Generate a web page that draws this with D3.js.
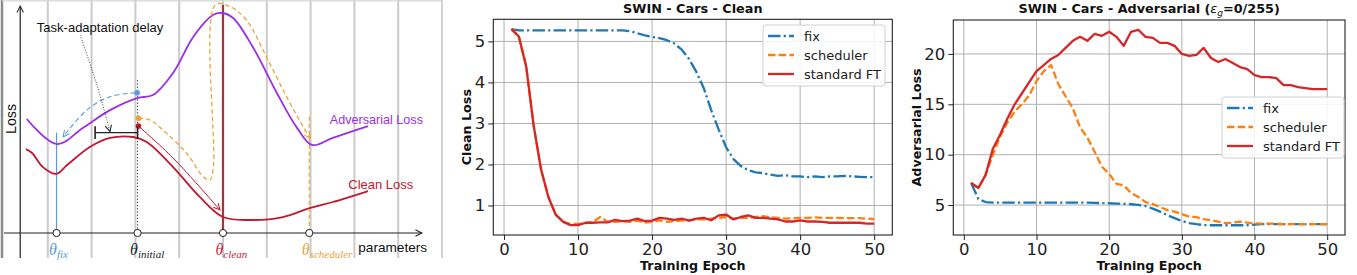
<!DOCTYPE html>
<html>
<head>
<meta charset="utf-8">
<script src="https://cdn.jsdelivr.net/npm/d3@7"></script>
<style>
  body { margin: 0; background: #fff; }
  svg { display: block; }
</style>
</head>
<body>
<script>
// ---------- data: line charts ----------
const epochs = d3.range(1, 51);
const xTicks = [0, 10, 20, 30, 40, 50];

const cleanFix = [5.30, 5.27, 5.27, 5.27, 5.27, 5.27, 5.27, 5.27, 5.27, 5.27,
  5.27, 5.27, 5.27, 5.27, 5.27, 5.27, 5.25, 5.20, 5.15, 5.11,
  5.08, 5.03, 4.95, 4.80, 4.57, 4.25, 3.85, 3.32, 2.85, 2.42,
  2.13, 1.96, 1.86, 1.81, 1.79, 1.75, 1.72, 1.74, 1.71, 1.71,
  1.69, 1.71, 1.69, 1.71, 1.71, 1.72, 1.71, 1.70, 1.69, 1.69];
const cleanScheduler = [5.30, 5.12, 4.40, 2.95, 1.88, 1.20, 0.78, 0.60, 0.55, 0.55,
  0.57, 0.60, 0.72, 0.60, 0.60, 0.62, 0.60, 0.63, 0.58, 0.60,
  0.64, 0.60, 0.62, 0.63, 0.64, 0.66, 0.66, 0.68, 0.70, 0.72,
  0.68, 0.70, 0.70, 0.72, 0.74, 0.71, 0.70, 0.68, 0.69, 0.70,
  0.70, 0.71, 0.70, 0.70, 0.70, 0.69, 0.69, 0.69, 0.68, 0.67];
const cleanStandard = [5.30, 5.12, 4.38, 2.95, 1.88, 1.20, 0.77, 0.60, 0.52, 0.52,
  0.58, 0.58, 0.59, 0.59, 0.65, 0.62, 0.63, 0.68, 0.62, 0.63,
  0.70, 0.68, 0.65, 0.68, 0.63, 0.68, 0.70, 0.64, 0.76, 0.78,
  0.66, 0.72, 0.76, 0.70, 0.70, 0.68, 0.66, 0.61, 0.61, 0.64,
  0.61, 0.61, 0.60, 0.58, 0.58, 0.58, 0.58, 0.58, 0.56, 0.56];

const advFix = [7.2, 5.6, 5.3, 5.25, 5.25, 5.25, 5.25, 5.25, 5.25, 5.25,
  5.25, 5.25, 5.25, 5.25, 5.25, 5.25, 5.25, 5.22, 5.2, 5.18,
  5.15, 5.12, 5.08, 5.02, 4.9, 4.65, 4.35, 4.0, 3.7, 3.42,
  3.22, 3.1, 3.02, 3.0, 3.0, 3.0, 3.0, 3.0, 3.0, 3.05,
  3.1, 3.1, 3.1, 3.1, 3.1, 3.1, 3.1, 3.1, 3.1, 3.1];
const advScheduler = [7.2, 6.7, 8.0, 10.0, 11.8, 13.2, 14.3, 15.0, 15.9, 17.3,
  18.3, 18.9, 17.0, 15.8, 14.6, 12.7, 11.7, 10.3, 8.8, 8.1,
  7.1, 6.95, 6.2, 5.8, 5.3, 5.1, 4.8, 4.5, 4.35, 4.1,
  3.85, 3.8, 3.6, 3.5, 3.35, 3.2, 3.25, 3.35, 3.25, 3.2,
  3.15, 3.15, 3.15, 3.1, 3.1, 3.1, 3.1, 3.1, 3.1, 3.1];
const advStandard = [7.2, 6.7, 8.0, 10.6, 12.0, 13.6, 15.0, 16.1, 17.2, 18.3,
  18.9, 19.5, 19.9, 20.6, 21.3, 21.7, 21.3, 22.0, 21.8, 22.2,
  21.7, 20.8, 22.2, 22.4, 21.7, 21.6, 21.1, 21.1, 20.8, 20.0,
  19.8, 19.9, 20.6, 19.6, 19.2, 19.5, 19.1, 18.7, 18.5, 17.9,
  17.7, 17.7, 17.6, 16.9, 16.9, 16.7, 16.6, 16.5, 16.5, 16.5];

const seriesNames = ["fix", "scheduler", "standard FT"];

// ---------- data: schematic (abstract parameter / loss units) ----------
const advCurve = [[0.52, 5.0], [1.21, 3.9], [1.8, 4.61], [2.42, 5.39], [3.04, 5.92],
  [3.4, 6.05], [3.86, 7.02], [4.32, 8.6], [4.77, 9.56], [4.98, 9.65], [5.23, 9.43],
  [5.68, 8.16], [6.23, 6.14], [6.69, 4.61], [7.03, 3.86], [7.51, 4.17], [8.31, 4.69]];
const cleanCurve = [[0.5, 3.68], [0.64, 3.51], [0.89, 2.89], [1.19, 2.59], [1.44, 2.98],
  [1.96, 3.77], [2.42, 4.17], [2.95, 4.21], [3.26, 3.99], [3.86, 2.89], [4.47, 1.58],
  [5.0, 0.7], [5.62, 0.57], [6.37, 0.7], [6.99, 1.1], [7.51, 1.36], [8.31, 1.84]];
const thetaNames = ["fix", "initial", "clean", "scheduler"];
const thetaPos = [1.2, 3.05, 5.0, 6.97];
const thetaTop = [4.4, 6.7, 10.0, 5.1];
const fixPath = [[3.0, 6.15], [2.42, 5.98], [1.89, 5.39], [1.35, 4.22]];
const schedulerPath = [[3.07, 5.03], [3.33, 4.96], [3.71, 4.37], [4.17, 3.5], [4.55, 2.47],
  [4.7, 2.32], [4.78, 2.9], [4.82, 10.0], [5.16, 9.93], [5.54, 9.33], [5.99, 7.73],
  [6.45, 5.98], [6.83, 4.66], [6.99, 4.15]];
const standardPath = [[3.07, 4.69], [3.86, 3.29], [4.93, 1.01]];
const startDots = [[3.04, 6.15], [3.07, 5.03], [3.07, 4.69]];
const delayRange = [2.08, 3.05];

const W = 1357, H = 275;
const svg = d3.select("body").append("svg").attr("width", W).attr("height", H);
svg.append("rect").attr("width", W).attr("height", H).attr("fill", "#fff");

const lineStyle = {
  "fix": { color: "#1f77b4", dash: "12.5,3.2,2.2,3.2" },
  "scheduler": { color: "#ff7f0e", dash: "7.5,3.2" },
  "standard FT": { color: "#d62728", dash: null },
};

function padExtent([a, b]) {
  const m = (b - a) * 0.05;
  return [a - m, b + m];
}

function drawChart(o) {
  const g = svg.append("g");
  const x = d3.scaleLinear().domain(padExtent(d3.extent(epochs))).range([o.left, o.right]);
  const y = d3.scaleLinear()
    .domain(padExtent(d3.extent(o.series.flat())))
    .range([o.bottom, o.top]);

  // grid
  g.append("g").selectAll("line").data(xTicks).join("line")
    .attr("x1", (d) => x(d)).attr("x2", (d) => x(d))
    .attr("y1", o.top).attr("y2", o.bottom)
    .attr("stroke", "#b0b0b0").attr("stroke-width", 1);
  g.append("g").selectAll("line").data(o.yTicks).join("line")
    .attr("y1", (d) => y(d)).attr("y2", (d) => y(d))
    .attr("x1", o.left).attr("x2", o.right)
    .attr("stroke", "#b0b0b0").attr("stroke-width", 1);

  // series
  const line = d3.line().x((d, i) => x(epochs[i])).y((d) => y(d));
  g.append("g").selectAll("path").data(o.series).join("path")
    .attr("d", (d) => line(d))
    .attr("fill", "none")
    .attr("stroke", (d, i) => lineStyle[seriesNames[i]].color)
    .attr("stroke-dasharray", (d, i) => lineStyle[seriesNames[i]].dash)
    .attr("stroke-width", 2.3)
    .attr("stroke-linejoin", "round");

  // axes
  const xa = g.append("g").attr("transform", `translate(0,${o.bottom})`)
    .call(d3.axisBottom(x).tickValues(xTicks).tickSize(5).tickPadding(3).tickFormat(d3.format("d")));
  const ya = g.append("g").attr("transform", `translate(${o.left},0)`)
    .call(d3.axisLeft(y).tickValues(o.yTicks).tickSize(5).tickPadding(3).tickFormat(d3.format("d")));
  [xa, ya].forEach((a) => {
    a.select(".domain").remove();
    a.selectAll("line").attr("stroke", "#222");
    a.selectAll("text").attr("font-family", "DejaVu Sans").attr("font-size", 16.5).attr("fill", "#222");
  });

  g.append("rect")
    .attr("x", o.left).attr("y", o.top)
    .attr("width", o.right - o.left).attr("height", o.bottom - o.top)
    .attr("fill", "none").attr("stroke", "#222").attr("stroke-width", 1.1);

  // title + labels
  const title = g.append("text")
    .attr("x", (o.left + o.right) / 2).attr("y", 13.3)
    .attr("text-anchor", "middle")
    .attr("font-family", "DejaVu Sans").attr("font-weight", "bold").attr("font-size", 12.8)
    .attr("fill", "#111");
  o.title(title);

  g.append("text")
    .attr("x", (o.left + o.right) / 2).attr("y", 270)
    .attr("text-anchor", "middle")
    .attr("font-family", "DejaVu Sans").attr("font-weight", "bold").attr("font-size", 12.7)
    .attr("fill", "#111")
    .text("Training Epoch");

  g.append("text")
    .attr("transform", `translate(${o.ylabelX},${(o.top + o.bottom) / 2}) rotate(-90)`)
    .attr("text-anchor", "middle")
    .attr("font-family", "DejaVu Sans").attr("font-weight", "bold").attr("font-size", 12.7)
    .attr("fill", "#111")
    .text(o.ylabel);

  // legend
  const lg = g.append("g").attr("transform", `translate(${o.legendX},${o.legendY})`);
  lg.append("rect")
    .attr("width", 122).attr("height", 61).attr("rx", 3)
    .attr("fill", "#fff").attr("fill-opacity", 0.85)
    .attr("stroke", "#d0d0d0").attr("stroke-width", 1);
  const row = lg.selectAll("g.row").data(seriesNames).join("g")
    .attr("transform", (d, i) => `translate(0,${11 + i * 19})`);
  row.append("line")
    .attr("x1", 5).attr("x2", 31)
    .attr("stroke", (d) => lineStyle[d].color)
    .attr("stroke-dasharray", (d) => lineStyle[d].dash)
    .attr("stroke-width", 2.3);
  row.append("text")
    .attr("x", 41).attr("dy", "0.36em")
    .attr("font-family", "DejaVu Sans").attr("font-size", 13).attr("fill", "#222")
    .text((d) => d);
}

drawChart({
  left: 493.3, right: 892.3, top: 19.3, bottom: 235,
  series: [cleanFix, cleanScheduler, cleanStandard],
  yTicks: [1, 2, 3, 4, 5],
  ylabel: "Clean Loss", ylabelX: 470.5,
  legendX: 763, legendY: 25,
  title: (t) => t.text("SWIN - Cars - Clean"),
});

drawChart({
  left: 953.3, right: 1345, top: 20, bottom: 235,
  series: [advFix, advScheduler, advStandard],
  yTicks: [5, 10, 15, 20],
  ylabel: "Adversarial Loss", ylabelX: 920.5,
  legendX: 1222, legendY: 97,
  title: (t) => {
    t.append("tspan").text("SWIN - Cars - Adversarial (");
    t.append("tspan").attr("font-style", "italic").attr("font-weight", "normal").text("ε");
    t.append("tspan").attr("font-style", "italic").attr("font-weight", "normal")
      .attr("font-size", 9).attr("dy", 3).text("g");
    t.append("tspan").attr("dy", -3).text("=0/255)");
  },
});

// ---------- schematic ----------
const sc = svg.append("g");
const sx = d3.scaleLinear().domain([0, 10]).range([4, 442]);
const sy = d3.scaleLinear().domain([0, 10]).range([233, 5]);

const col = {
  adv: "#9a2fe3",
  clean: "#c3172f",
  fix: "#5b9bd8",
  initial: "#222",
  cleanTheta: "#c01f3e",
  cleanLine: "#a6333f",
  scheduler: "#e9a43a",
};

const defs = svg.append("defs");
function arrowMarker(id, color) {
  defs.append("marker")
    .attr("id", id)
    .attr("viewBox", "0 0 10 10").attr("refX", 9).attr("refY", 5)
    .attr("markerWidth", 8).attr("markerHeight", 8)
    .attr("markerUnits", "userSpaceOnUse")
    .attr("orient", "auto")
    .append("path")
    .attr("d", "M1,1 L9,5 L1,9")
    .attr("fill", "none").attr("stroke", color).attr("stroke-width", 1.3);
}
arrowMarker("arr-fix", col.fix);
arrowMarker("arr-sched", col.scheduler);
arrowMarker("arr-clean", col.clean);
arrowMarker("arr-black", "#222");

// panel frame and vertical stripes
sc.append("g").selectAll("line").data(d3.range(1, 10)).join("line")
  .attr("x1", (d) => sx(d)).attr("x2", (d) => sx(d))
  .attr("y1", 0).attr("y2", 258)
  .attr("stroke", "#cbcbcb").attr("stroke-width", 2);
sc.append("line").attr("x1", 2).attr("x2", 2).attr("y1", 0).attr("y2", 258)
  .attr("stroke", "#8c8c8c").attr("stroke-width", 2.5);
sc.append("line").attr("x1", sx(10)).attr("x2", sx(10)).attr("y1", 0).attr("y2", 258)
  .attr("stroke", "#b5b5b5").attr("stroke-width", 1.2);
sc.append("line").attr("x1", 2).attr("x2", sx(10)).attr("y1", 0.8).attr("y2", 0.8)
  .attr("stroke", "#d5d5d5").attr("stroke-width", 1.2);

// axes with arrows
sc.append("line")
  .attr("x1", sx(0)).attr("x2", sx(9.54)).attr("y1", sy(0)).attr("y2", sy(0))
  .attr("stroke", "#222").attr("stroke-width", 1.2).attr("marker-end", "url(#arr-black)");
sc.append("line")
  .attr("x1", sx(0.37)).attr("x2", sx(0.37)).attr("y1", sy(-1.1)).attr("y2", sy(9.95))
  .attr("stroke", "#222").attr("stroke-width", 1.2).attr("marker-end", "url(#arr-black)");
sc.append("text")
  .attr("transform", `translate(${sx(0.37) - 4},${sy(5.0)}) rotate(-90)`)
  .attr("text-anchor", "middle")
  .attr("font-family", "Liberation Sans").attr("font-size", 14.2).attr("fill", "#111")
  .text("Loss");

// theta verticals
const thetaColor = [col.fix, col.initial, col.cleanLine, col.scheduler];
const thetaDash = [null, "1.2,2", null, "4,3"];
const thetaWidth = [1.2, 1, 2.2, 1.2];
sc.append("g").selectAll("line").data(thetaPos).join("line")
  .attr("x1", (d) => sx(d)).attr("x2", (d) => sx(d))
  .attr("y1", (d, i) => sy(thetaTop[i])).attr("y2", sy(0))
  .attr("stroke", (d, i) => thetaColor[i])
  .attr("stroke-dasharray", (d, i) => thetaDash[i])
  .attr("stroke-width", (d, i) => thetaWidth[i]);

// loss curves
const curve = d3.line().x((d) => sx(d[0])).y((d) => sy(d[1])).curve(d3.curveCatmullRom.alpha(0.5));
sc.append("path").attr("d", curve(advCurve))
  .attr("fill", "none").attr("stroke", col.adv).attr("stroke-width", 1.8);
sc.append("path").attr("d", curve(cleanCurve))
  .attr("fill", "none").attr("stroke", col.clean).attr("stroke-width", 1.8);

// optimisation paths
sc.append("path").attr("d", curve(fixPath))
  .attr("fill", "none").attr("stroke", col.fix).attr("stroke-width", 1.1)
  .attr("stroke-dasharray", "5,3").attr("marker-end", "url(#arr-fix)");
sc.append("path").attr("d", curve(schedulerPath))
  .attr("fill", "none").attr("stroke", col.scheduler).attr("stroke-width", 1.3)
  .attr("stroke-dasharray", "4.5,3").attr("marker-end", "url(#arr-sched)");
sc.append("path").attr("d", curve(standardPath))
  .attr("fill", "none").attr("stroke", col.clean).attr("stroke-width", 1)
  .attr("marker-end", "url(#arr-clean)");

sc.append("g").selectAll("circle").data(startDots).join("circle")
  .attr("cx", (d) => sx(d[0])).attr("cy", (d) => sy(d[1])).attr("r", 2.8)
  .attr("fill", (d, i) => [col.fix, col.scheduler, col.clean][i]);

// delay bracket and annotation
sc.append("line")
  .attr("x1", sx(delayRange[0])).attr("x2", sx(delayRange[1]))
  .attr("y1", sy(4.4)).attr("y2", sy(4.4))
  .attr("stroke", "#222").attr("stroke-width", 1.3);
sc.append("g").selectAll("line").data(delayRange).join("line")
  .attr("x1", (d) => sx(d)).attr("x2", (d) => sx(d))
  .attr("y1", sy(4.68)).attr("y2", sy(4.12))
  .attr("stroke", "#222").attr("stroke-width", 1.6);
sc.append("path")
  .attr("d", curve([[1.74, 8.68], [2.12, 6.5], [2.42, 4.45]]))
  .attr("fill", "none").attr("stroke", "#333").attr("stroke-width", 0.9)
  .attr("stroke-dasharray", "1,1.6").attr("marker-end", "url(#arr-black)");
sc.append("text")
  .attr("x", sx(0.75)).attr("y", 32)
  .attr("font-family", "Liberation Sans").attr("font-size", 13).attr("fill", "#111")
  .text("Task-adaptation delay");

// curve labels
sc.append("text")
  .attr("x", sx(7.44)).attr("y", 124)
  .attr("font-family", "Liberation Sans").attr("font-size", 12.6).attr("fill", col.adv)
  .text("Adversarial Loss");
sc.append("text")
  .attr("x", sx(7.86)).attr("y", 189.3)
  .attr("font-family", "Liberation Sans").attr("font-size", 13).attr("fill", col.clean)
  .text("Clean Loss");

// theta markers on the axis
sc.append("g").selectAll("circle").data(thetaPos).join("circle")
  .attr("cx", (d) => sx(d)).attr("cy", sy(0)).attr("r", 3.6)
  .attr("fill", "#fff").attr("stroke", "#222").attr("stroke-width", 1);

const labelColor = [col.fix, col.initial, col.cleanTheta, col.scheduler];
const thetaLabel = sc.append("g").selectAll("text").data(thetaNames).join("text")
  .attr("x", (d, i) => sx(thetaPos[i]) - 7.5).attr("y", 255)
  .attr("font-family", "Liberation Serif").attr("font-style", "italic")
  .attr("fill", (d, i) => labelColor[i]);
thetaLabel.append("tspan").attr("font-size", 16).text("θ");
thetaLabel.append("tspan").attr("font-size", 11).attr("dy", 2.5).text((d) => d);

sc.append("text")
  .attr("x", 358.3).attr("y", 252)
  .attr("font-family", "Liberation Sans").attr("font-size", 13.6).attr("fill", "#111")
  .text("parameters");
</script>
</body>
</html>
